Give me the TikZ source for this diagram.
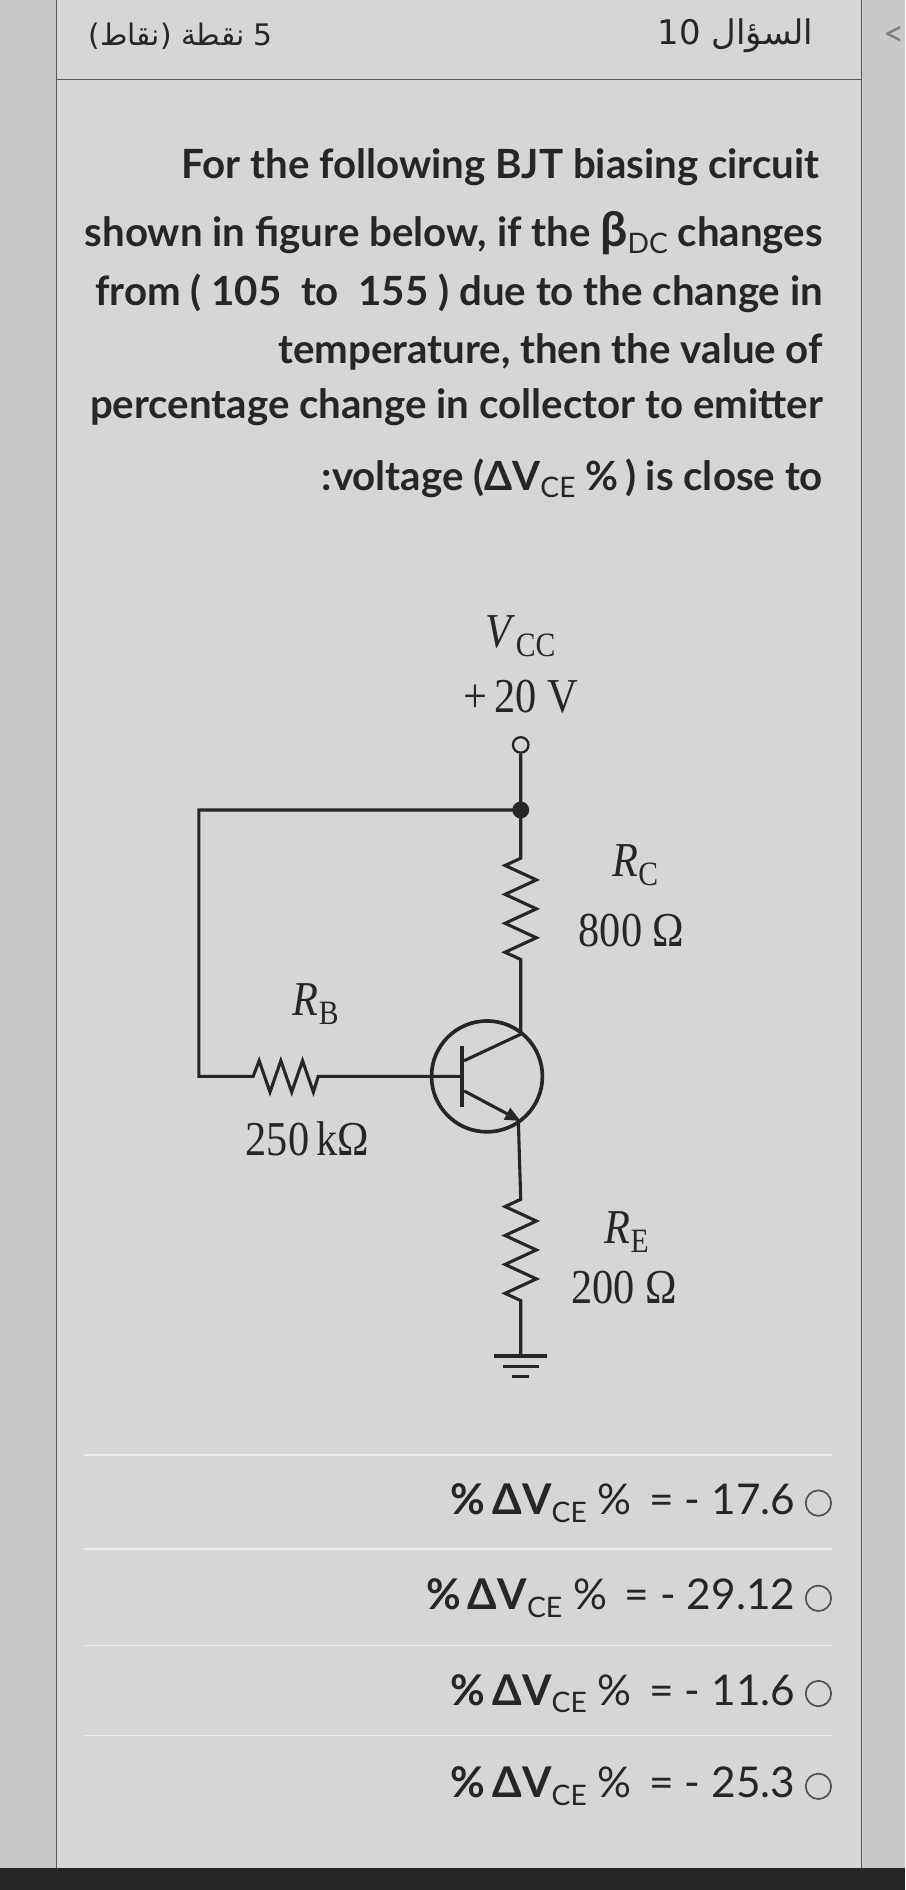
\documentclass[tikz,border=0pt]{standalone}
\usepackage{fontspec}
\setmainfont{Lato}
\newfontfamily\serifc{Liberation Serif}
\newfontfamily\arabicfont[Script=Arabic]{DejaVu Sans}
\TeXXeTstate=1
\usetikzlibrary{arrows.meta}
\definecolor{pagebg}{HTML}{C9C9C9}
\definecolor{cardbg}{HTML}{D6D6D6}
\definecolor{ink}{HTML}{262626}
\newcommand{\sbs}[1]{\raisebox{-0.35ex}{\fontsize{20}{20}\selectfont\mdseries #1}}
\newcommand{\csub}[1]{\raisebox{-0.4ex}{\fontsize{21}{21}\selectfont #1}}
\begin{document}
\begin{tikzpicture}[x=0.03cm,y=-0.03cm,
  qtext/.style={anchor=east,font=\fontsize{28.5}{28.5}\selectfont\bfseries,text=ink,inner sep=0},
  ckt/.style={font=\serifc\fontsize{30}{30}\selectfont,yscale=1.15,transform shape,text=ink,inner sep=0},
  wire/.style={line width=2.2pt,draw=ink},
  opt/.style={anchor=east,font=\fontsize{30}{30}\selectfont,text=ink,inner sep=0},
  sep/.style={draw=white!85!gray,line width=1pt}]
\useasboundingbox (0,0) rectangle (751,1568);
\fill[pagebg] (0,0) rectangle (751,1568);
\fill[cardbg] (47,0) rectangle (715,1550);
\draw[gray!70!black,line width=0.8pt] (47,0) -- (47,1550) (715,0) -- (715,1550);
\draw[gray!70!black,line width=1pt] (47,66) -- (715,66);
\fill[black!85] (0,1550) rectangle (751,1568);
\node[text=ink,font=\arabicfont\fontsize{21}{21}\selectfont] (pts) at (150,30) {\beginR 5 نقطة (نقاط)\endR};
\node[text=ink,font=\arabicfont\fontsize{24}{24}\selectfont] (qn) at (610,30) {\beginR السؤال 10\endR};
\node[text=gray,font=\fontsize{26}{26}\selectfont] (lt) at (742,30) {<};
% question text
\node[qtext] (l1) at (680,139) {For the following BJT biasing circuit};
\node[qtext] (l2) at (683,193) {shown in figure below, if the {\fontsize{34}{34}\selectfont β}\sbs{DC} changes};
\node[qtext] (l3) at (683,243) {from ( 105 \ to \ 155 ) due to the change in};
\node[qtext] (l4) at (683,292) {temperature, then the value of};
\node[qtext] (l5) at (683,338) {percentage change in collector to emitter};
\node[qtext] (l6) at (683,397) {:voltage (ΔV\sbs{CE} \%\,) is close to};
% circuit
\node[ckt] (vcc) at (432,528) {\textit{V}\csub{CC}};
\node[ckt] (v20) at (432,578) {+\,20 V};
\node[circle,draw=ink,line width=1.6pt,minimum size=11pt,inner sep=0] (term) at (432,618) {};
\fill[ink] (432,672) circle (7);
\coordinate (j) at (432,672);
\coordinate (tl) at (165,672);
\coordinate (bl) at (165,893);
\draw[wire] (term) -- (j) -- (tl) -- (bl) -- (210,893)
  -- (215,880) -- (224,906) -- (233,880) -- (242,906) -- (251,880) -- (260,906) -- (264,893) -- (383,893);
\draw[wire] (j) -- (432,712) -- (419,718) -- (445,730) -- (419,742) -- (445,754) -- (419,766) -- (445,778) -- (419,790) -- (432,796) -- (432,858) -- (385,880);
\draw[line width=2.8pt,draw=ink] (383,868) -- (383,918);
\draw[line width=2.6pt,draw=ink] (404,893) circle (46);
\draw[wire,-{Triangle[length=11pt,width=9pt]}] (385,905) -- (432,930);
\draw[wire] (430,929) -- (432,995) -- (419,1001) -- (445,1013) -- (419,1025) -- (445,1037) -- (419,1049) -- (445,1061) -- (419,1073) -- (432,1079) -- (432,1125);
\coordinate (g) at (432,1125);
\draw[wire] (410,1125) -- (454,1125) (417,1134) -- (447,1134) (425,1142) -- (439,1142);
\node[ckt] (rcl) at (527,718) {\textit{R}\csub{C}};
\node[ckt] (rcv) at (524,772) {800 Ω};
\node[ckt] (rbl) at (262,833) {\textit{R}\csub{B}};
\node[ckt] (rbv) at (255,945) {250\,kΩ};
\node[ckt] (rel) at (520,1022) {\textit{R}\csub{E}};
\node[ckt] (rev) at (518,1068) {200 Ω};
% options
\draw[sep] (70,1207) -- (690,1207) (70,1285) -- (690,1285) (70,1365) -- (690,1365) (70,1440) -- (690,1440);
\foreach \y/\v/\n in {1247/17.6/a,1326/29.12/b,1405/11.6/c,1482/25.3/d}{
  \node[opt] (o\n) at (660,\y) {\textbf{\%\,ΔV}\sbs{CE} \% \,= - \v};
  \node[circle,draw=ink!80,line width=1.2pt,minimum size=18pt,inner sep=0] (c\n) at (679,\y) {};
}
\end{tikzpicture}
\end{document}
